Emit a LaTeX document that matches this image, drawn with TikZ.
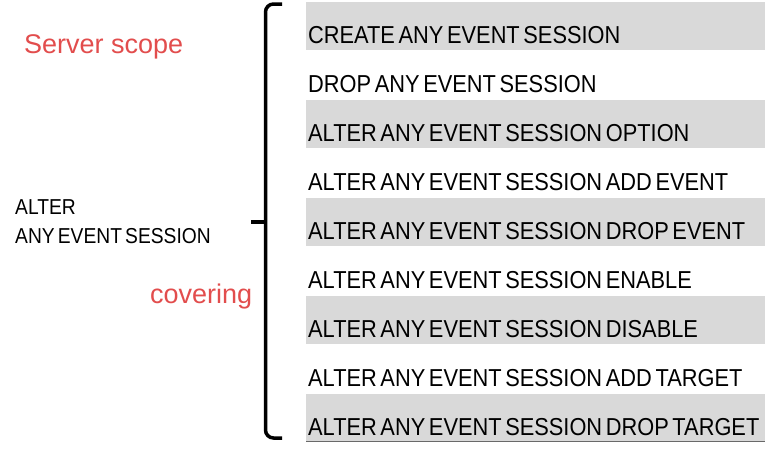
\documentclass[tikz,border=0pt]{standalone}
\usepackage{fontspec}
\setmainfont{Liberation Sans}
\newfontfamily\narrowfont[FakeStretch=0.89,WordSpace=0.6]{Liberation Sans}
\usepackage{tikz}
\definecolor{scopered}{RGB}{226,77,77}
\definecolor{bandgray}{RGB}{217,217,217}
\definecolor{bandline}{RGB}{105,105,105}
\tikzset{
    permrow/.style={anchor=base west, inner sep=0pt, font=\narrowfont\fontsize{24.5}{24.5}\selectfont},
    permband/.style={anchor=north west, inner sep=0pt, fill=bandgray, minimum width=459pt, minimum height=48pt},
    redlabel/.style={anchor=base west, inner sep=0pt, text=scopered, font=\fontsize{27}{27}\selectfont},
    bracket/.style={line width=3.5pt, rounded corners=8pt}
}
\begin{document}
\begin{tikzpicture}[x=1pt, y=-1pt]
    \useasboundingbox (0,0) rectangle (766,458);

    % left labels
    \node[redlabel] (scope) at (24,53) {Server scope};
    \node[anchor=north west, inner sep=0pt, align=left, font=\narrowfont\fontsize{21.6}{29}\selectfont] (alter) at (15,199.5) {
        ALTER \\
        ANY EVENT SESSION
    };
    \node[redlabel] (covering) at (150,303) {covering};

    % bracket
    \draw[bracket] (282,4) -| (265.5,222) |- (282,438);
    \draw[bracket, rounded corners=0pt] (265.5,222) -- (251,222);

    % shaded bands
    \node[permband] (b1) at (306,2) {};
    \node[permband] (b3) at (306,100) {};
    \node[permband] (b5) at (306,198) {};
    \node[permband] (b7) at (306,296) {};
    \node[permband] (b9) at (306,394) {};
    \draw[bandline, line width=1.5pt] ([yshift=1pt]b9.south west) -- ([yshift=1pt]b9.south east);

    % permissions
    \node[permrow] (r1) at (308,43) {CREATE ANY EVENT SESSION};
    \node[permrow] (r2) at (308,92) {DROP ANY EVENT SESSION};
    \node[permrow] (r3) at (308,141) {ALTER ANY EVENT SESSION OPTION};
    \node[permrow] (r4) at (308,190) {ALTER ANY EVENT SESSION ADD EVENT};
    \node[permrow] (r5) at (308,239) {ALTER ANY EVENT SESSION DROP EVENT};
    \node[permrow] (r6) at (308,288) {ALTER ANY EVENT SESSION ENABLE};
    \node[permrow] (r7) at (308,337) {ALTER ANY EVENT SESSION DISABLE};
    \node[permrow] (r8) at (308,386) {ALTER ANY EVENT SESSION ADD TARGET};
    \node[permrow] (r9) at (308,435) {ALTER ANY EVENT SESSION DROP TARGET};
\end{tikzpicture}
\end{document}
